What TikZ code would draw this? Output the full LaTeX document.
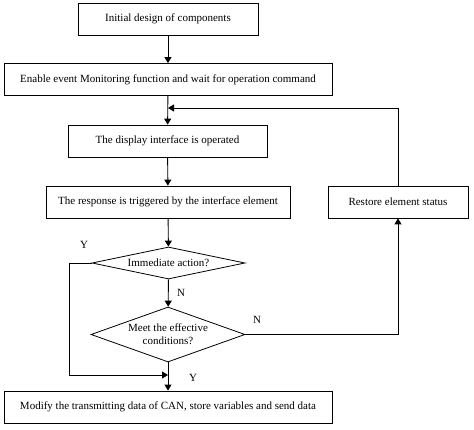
\documentclass[tikz,border=0pt]{standalone}
\usepackage{fontspec}
\setmainfont{Liberation Serif}
\usepackage{xcolor}
\usepackage{tikz}
\usetikzlibrary{shapes.geometric,arrows.meta,positioning,calc}

\tikzset{
  procbox/.style={rectangle, draw=black, line width=0.8pt, fill=white, minimum height=32pt, inner sep=2pt, font=\fontsize{11}{13}\selectfont, align=center},
  decbox/.style={diamond, draw=black, line width=0.8pt, fill=white, inner sep=0pt, font=\fontsize{11}{13}\selectfont, align=center},
  flow/.style={-{Triangle[length=6pt,width=7pt]}, line width=0.9pt},
  tag/.style={font=\fontsize{11}{13}\selectfont}
}

\begin{document}
\begin{tikzpicture}[x=1pt,y=-1pt]
        \useasboundingbox (0,0) rectangle (474,430);
        % Main column
        \node[procbox, minimum width=180pt] (init) at (168,19) {Initial design of components};
        \node[procbox, minimum width=328pt] (enable) at (168,79.5) {Enable event Monitoring function and wait for operation command};
        \node[procbox, minimum width=199pt] (display) at (167.5,141) {The display interface is operated};
        \node[procbox, minimum width=244pt] (response) at (168,202) {The response is triggered by the interface element};
        \node[decbox, aspect=4.8, minimum width=153pt, minimum height=32pt] (immediate) at (168.5,263) {Immediate action?};
        \node[decbox, aspect=2.8, minimum width=154pt, minimum height=55pt] (meet) at (168,334.5) {Meet the effective\\conditions?};
        \node[procbox, minimum width=328pt] (modify) at (168,407) {Modify the transmitting data of CAN, store variables and send data};
        % Side branch
        \node[procbox, minimum width=140pt] (restore) at (398,202) {Restore element status};
        \coordinate (back) at (168,108);
        \coordinate (merge) at (168,375);
        \draw[flow] (init) -- (enable);
        \draw[flow] (enable) -- (display);
        \draw[flow] (display) -- (response);
        \draw[flow] (response) -- (immediate);
        \draw[flow] (immediate) -- node[tag, right=5pt] {N} (meet);
        \draw[flow] (meet) -- (modify);
        \draw[flow] (immediate.west) -- (69,263) |- (merge);
        \draw[flow] (meet.east) -| (restore.south);
        \draw[flow] (restore.north) |- (back);
        \node[tag] (ytop) at (84,245) {Y};
        \node[tag] (nside) at (257,320) {N};
        \node[tag] (ybottom) at (193,378) {Y};
      \end{tikzpicture}
\end{document}
